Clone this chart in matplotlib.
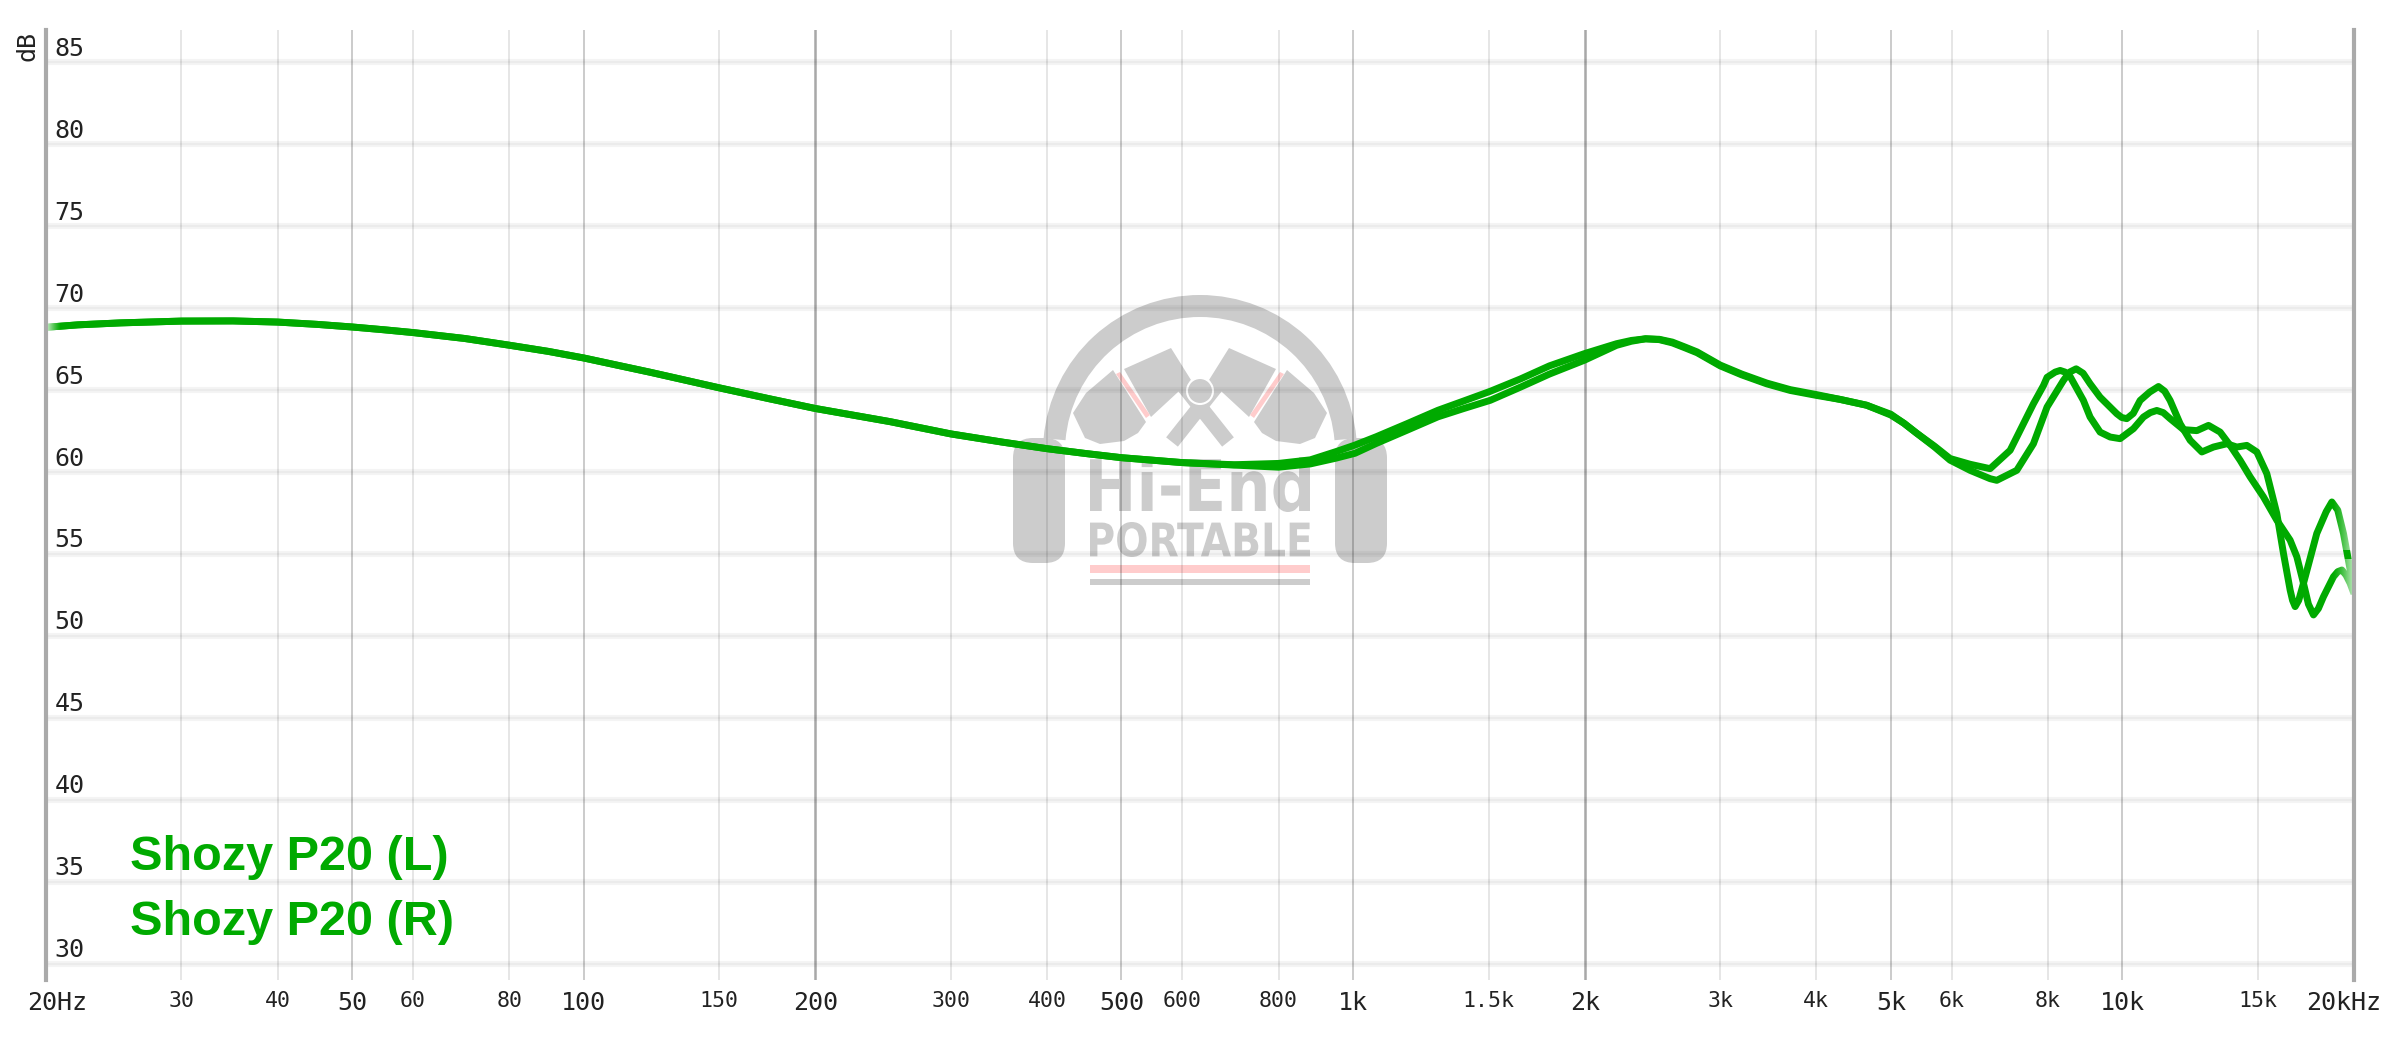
import numpy as np
import matplotlib
matplotlib.use("Agg")
import matplotlib.pyplot as plt
from matplotlib.patches import Wedge, FancyBboxPatch, Polygon, Circle, Rectangle, PathPatch
from matplotlib.transforms import Affine2D, ScaledTranslation, blended_transform_factory
from matplotlib.textpath import TextPath
from matplotlib.font_manager import FontProperties
from matplotlib.ticker import NullLocator

# ---------------- data ----------------
series_names = ["Shozy P20 (L)", "Shozy P20 (R)"]

freq_L = [20, 22, 25, 30, 35, 40, 45, 50, 55, 60, 70, 80, 90, 100, 122, 150, 174, 200, 250, 300, 350, 400, 450, 500, 600, 700,
          800, 880, 950, 1006, 1072, 1176, 1289, 1391, 1508, 1650, 1800, 2000, 2200, 2300,
          2400, 2500, 2600, 2700, 2800, 3000, 3200, 3450, 3700, 4000, 4300, 4650, 5000, 5200, 5400, 5700, 5970, 6338, 6730,
          7146, 7290, 7662, 7896, 7981, 8177, 8300, 8424, 8551, 8898, 9078, 9354, 9640, 9931,
          10336, 10650, 10870, 11084, 11300, 11535, 12006, 12496, 12939, 13398, 13804, 14224,
          14656, 15252, 15874, 16520, 16854, 17194, 17449, 17716, 17978, 18252, 18808, 19052, 19287, 19530,
          19770, 20000]
spl_L = [68.85, 69.0, 69.12, 69.23, 69.24, 69.17, 69.03, 68.87, 68.7, 68.53, 68.17, 67.76, 67.38, 66.98, 66.11, 65.16, 64.5, 63.9, 63.1, 62.35, 61.85, 61.45, 61.15, 60.9, 60.6, 60.47,
         60.55, 60.77, 61.27, 61.67, 62.18, 62.98, 63.79, 64.35, 64.95, 65.7, 66.5, 67.25, 67.85, 68.05,
         68.15, 68.1, 67.9, 67.6, 67.3, 66.5, 65.95, 65.4, 65.0, 64.7, 64.45, 64.1, 63.5, 63.0, 62.4, 61.6, 60.85, 60.5, 60.23,
         61.35, 62.16, 64.19, 65.3, 65.8, 66.12, 66.22, 66.12, 65.85, 64.39, 63.38, 62.46, 62.16, 62.06,
         62.67, 63.38, 63.65, 63.78, 63.65, 63.28, 62.61, 62.55, 62.87, 62.46, 61.65, 60.74,
         59.73, 58.51, 57.09, 55.87, 54.86, 53.24, 51.97, 51.31, 51.7, 52.42, 53.64, 53.95, 54.05, 53.74,
         53.24, 52.6]

freq_R = [20, 22, 25, 30, 35, 40, 45, 50, 55, 60, 70, 80, 90, 100, 122, 150, 174, 200, 250, 300, 350, 400, 450, 500, 600, 700,
          800, 880, 950, 1006, 1072, 1176, 1289, 1391, 1508, 1650, 1800, 2000, 2200, 2300,
          2400, 2500, 2600, 2700, 2800, 3000, 3200, 3450, 3700, 4000, 4300, 4650, 5000, 5200, 5400, 5700, 5970, 6338, 6730, 6866,
          7290, 7662, 7981, 8382, 8540, 8708, 8890, 9078, 9354, 9834, 9980, 10132, 10330, 10544, 10850, 11140, 11350, 11535,
          11886, 12248, 12684, 13134, 13668, 14084, 14512, 14952, 15406, 15874, 16194, 16520, 16640, 16770, 16950, 17194,
          17892, 18400, 18718, 19050, 19380, 20000]
spl_R = [68.85, 69.0, 69.12, 69.23, 69.24, 69.17, 69.03, 68.87, 68.7, 68.53, 68.17, 67.76, 67.38, 66.98, 66.11, 65.16, 64.5, 63.9, 63.1, 62.35, 61.85, 61.45, 61.15, 60.9, 60.6, 60.45,
         60.32, 60.52, 60.87, 61.17, 61.77, 62.58, 63.39, 63.89, 64.4, 65.2, 66.0, 66.85, 67.75, 68.0,
         68.15, 68.12, 67.95, 67.65, 67.35, 66.55, 66.0, 65.45, 65.05, 64.75, 64.45, 64.1, 63.55, 63.0, 62.4, 61.55, 60.75, 60.13, 59.62, 59.52,
         60.13, 61.75, 63.99, 65.61, 66.12, 66.32, 66.05, 65.41, 64.59, 63.58, 63.35, 63.28, 63.6, 64.39, 64.9, 65.24, 64.95, 64.39,
         62.97, 61.96, 61.25, 61.55, 61.75, 61.55, 61.65, 61.25, 59.93, 57.5, 55.06, 52.83, 52.2, 51.82, 52.2, 53.24,
         56.28, 57.6, 58.2, 57.7, 56.28, 52.8]

x_ticks = [20, 30, 40, 50, 60, 80, 100, 150, 200, 300, 400, 500, 600, 800,
           1000, 1500, 2000, 3000, 4000, 5000, 6000, 8000, 10000, 15000, 20000]
x_tick_labels = ["20Hz", "30", "40", "50", "60", "80", "100", "150", "200", "300", "400",
                 "500", "600", "800", "1k", "1.5k", "2k", "3k", "4k", "5k", "6k", "8k",
                 "10k", "15k", "20kHz"]
x_big = [20, 50, 100, 200, 500, 1000, 2000, 5000, 10000, 20000]
grid_dark = [200, 2000]
grid_mid = [50, 100, 500, 1000, 5000, 10000]

y_ticks = [30, 35, 40, 45, 50, 55, 60, 65, 70, 75, 80, 85]
y_tick_labels = [str(v) for v in y_ticks]
y_unit = "dB"

# ---------------- style ----------------
W, H, DPI = 2400, 1038, 100
GREEN = "#00aa00"
TXT = "#222222"
MONO = "DejaVu Sans Mono"

fig = plt.figure(figsize=(W / DPI, H / DPI), dpi=DPI, facecolor="white")
ax = fig.add_axes([46 / W, 1 - 980 / H, (2354 - 46) / W, (980 - 30) / H])
ax.patch.set_visible(False)
ax.set_xscale("log")

# ---------------- watermark (figure pixel coords, y down) ----------------
T = Affine2D().scale(1.0 / DPI) + fig.dpi_scale_trans
WM = "#cccccc"
PINK = "#ffcccc"


def P(x, y):
    return (x, H - y)


def add(p, z=-1):
    p.set_transform(T)
    p.set_zorder(z)
    fig.add_artist(p)


def mirror(pts):
    return [(2400 - x, y) for x, y in pts]


def poly(pts, fc=WM, ec="none", lw=0):
    add(Polygon([P(x, y) for x, y in pts], closed=True, fc=fc, ec=ec, lw=lw))


def bar(p0, p1, w, fc=WM):
    (x0, y0), (x1, y1) = p0, p1
    d = np.array([x1 - x0, y1 - y0], float)
    n = np.array([-d[1], d[0]]) / np.hypot(*d) * w / 2
    pts = [(x0 + n[0], y0 + n[1]), (x1 + n[0], y1 + n[1]),
           (x1 - n[0], y1 - n[1]), (x0 - n[0], y0 - n[1])]
    poly(pts, fc=fc)


def text_in_box(s, x0, y0, x1, y1, weight):
    tp = TextPath((0, 0), s, size=100, prop=FontProperties(family="DejaVu Sans", weight=weight))
    ext = tp.get_extents()
    tr = (Affine2D().translate(-ext.x0, -ext.y0)
          .scale((x1 - x0) / ext.width, (y1 - y0) / ext.height)
          .translate(x0, H - y1))
    add(PathPatch(tr.transform_path(tp), fc=WM, ec="none"))


# headband
add(Wedge(P(1200, 452), 157, 5, 175, width=22, fc=WM, ec="none"))
# ear cups
for x0 in (1013, 1335):
    add(FancyBboxPatch(P(x0, 563), 52, 125, boxstyle="round,pad=0,rounding_size=20",
                       fc=WM, ec="none"))
# hammer heads
head_big = [(1073, 413), (1086, 393), (1113, 370), (1146, 422), (1138, 433),
            (1124, 441), (1100, 444), (1085, 438)]
head_back = [(1124, 369), (1171, 348), (1191, 380), (1151, 417)]
stripe = [(1116, 374), (1120, 372), (1150, 415), (1146, 418)]
for pts in (head_big, head_back):
    poly(pts)
    poly(mirror(pts))
poly(stripe, fc=PINK)
poly(mirror(stripe), fc=PINK)
# handles
bar((1182, 384), (1228, 442), 15)
bar((1218, 384), (1172, 442), 15)
add(Circle(P(1200, 391), 13, fc=WM, ec="white", lw=1.5))
# lettering
text_in_box("Hi-End", 1090, 457, 1310, 512, "bold")
text_in_box("PORTABLE", 1090, 522, 1310, 557, "bold")
add(Rectangle(P(1090, 573), 220, 8, fc=PINK, ec="none"))
add(Rectangle(P(1090, 585), 220, 6, fc=WM, ec="none"))

# ---------------- grid ----------------
for v in y_ticks:
    ax.axhline(v, color=(0, 0, 0, 0.045), lw=4.5, zorder=0.4)
    ax.axhline(v, color=(0, 0, 0, 0.035), lw=1.6, zorder=0.41)
for f in x_ticks[1:-1]:
    if f in grid_dark:
        ax.axvline(f, color=(0, 0, 0, 0.34), lw=1.8, zorder=0.5)
    elif f in grid_mid:
        ax.axvline(f, color=(0, 0, 0, 0.22), lw=1.3, zorder=0.5)
    else:
        ax.axvline(f, color=(0, 0, 0, 0.13), lw=1.1, zorder=0.5)

for s in ("top", "bottom"):
    ax.spines[s].set_visible(False)
for s in ("left", "right"):
    ax.spines[s].set_color("#aaaaaa")
    ax.spines[s].set_linewidth(3.0)
    ax.spines[s].set_zorder(6)

# ---------------- curves ----------------
for f, s in ((freq_L, spl_L), (freq_R, spl_R)):
    ax.plot(f, s, color=GREEN, lw=5.0, solid_joinstyle="round",
            solid_capstyle="butt", zorder=3)

# fade the ends of the curves
ramp = np.zeros((2, 64, 4))
ramp[..., :3] = 1.0
ramp[..., 3] = np.linspace(0.0, 0.85, 64) ** 1.3
ax.imshow(ramp[:, ::-1], extent=(20, 20.9, 67.9, 69.8), aspect="auto",
          interpolation="bilinear", zorder=3.5)
ax.imshow(ramp, extent=(18700, 20000, 51.0, 54.75), aspect="auto",
          interpolation="bilinear", zorder=3.5)
ax.imshow(ramp, extent=(18700, 20000, 55.25, 58.6), aspect="auto",
          interpolation="bilinear", zorder=3.5)

ax.set_xlim(20, 20000)
ax.set_ylim(29.05, 86.98)

# ---------------- ticks / labels ----------------
ax.set_xticks(x_ticks)
ax.set_xticklabels(x_tick_labels)
ax.xaxis.set_minor_locator(NullLocator())
ax.tick_params(axis="x", length=0, pad=8, colors=TXT)
ax.set_yticks([])
labels = ax.get_xticklabels()
for lbl, f in zip(labels, x_ticks):
    lbl.set_family(MONO)
    lbl.set_fontsize(18 if f in x_big else 15.5)
labels[0].set_transform(labels[0].get_transform() + ScaledTranslation(11 / DPI, 0, fig.dpi_scale_trans))
labels[-1].set_transform(labels[-1].get_transform() + ScaledTranslation(-10 / DPI, 0, fig.dpi_scale_trans))

ytr = blended_transform_factory(ax.transAxes, ax.transData)
for v, s in zip(y_ticks, y_tick_labels):
    ax.annotate(s, xy=(0, v), xycoords=ytr, xytext=(6, 5), textcoords="offset points",
                ha="left", va="baseline", fontsize=18, family=MONO, color=TXT, zorder=5)

fig.text(28 / W, 1 - 31 / H, y_unit, rotation=90, ha="center", va="top",
         fontsize=18, family=MONO, color=TXT)

# legend as coloured names
for i, name in enumerate(series_names):
    fig.text(130 / W, 1 - (870 + 65 * i) / H, name, color=GREEN, fontsize=35,
             fontweight="bold", family="Liberation Sans", ha="left", va="baseline")

fig.savefig("out.png", dpi=DPI, facecolor="white")
